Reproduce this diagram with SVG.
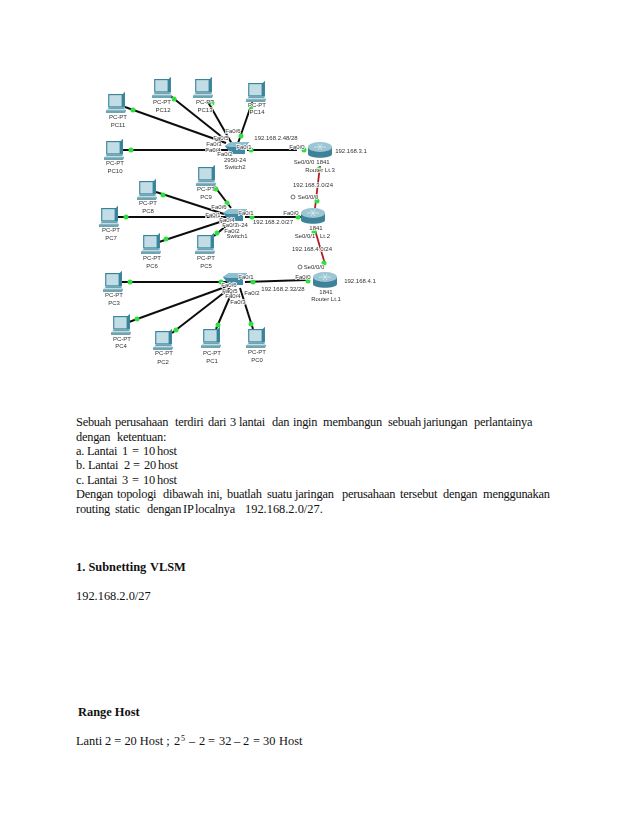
<svg xmlns="http://www.w3.org/2000/svg" width="638" height="826" viewBox="0 0 638 826">
<style>
.b{font-family:"Liberation Serif","Times New Roman",serif;font-size:12.4px;fill:#111;letter-spacing:-0.25px}
.h{font-weight:bold;letter-spacing:0}
.n{letter-spacing:0}
.l{font-family:"Liberation Sans",Arial,sans-serif;font-size:6px;fill:#333;text-anchor:middle;stroke:#fff;stroke-width:1.4px;paint-order:stroke}
.k{stroke:#111;stroke-width:2;fill:none}
.r{stroke:#b01c22;stroke-width:1.8;fill:none}
.d{fill:#2fe03c}
</style>
<defs>
<filter id="soft" x="-2%" y="-2%" width="104%" height="104%"><feGaussianBlur stdDeviation="0.4"/></filter>
<g id="pc" transform="scale(1.12)">
<path d="M-9 7L-6 4H7L9 7L8 9H-9Z" fill="#6ea5b5"/>
<path d="M-7 -8H6L8 -10V4H-7Z" fill="#37859b"/>
<rect x="-6" y="-7" width="11" height="10" fill="#c3dde6"/>
<path d="M-8 6H8" stroke="#d7e6ea" stroke-width="1"/>
</g>
<g id="sw">
<path d="M-12 -3L-6 -7H12L8 -1V5H-6Z" fill="#3f8aa3"/>
<path d="M-12 -3L-6 -7H12L7 -2H-7Z" fill="#8fc0d0"/>
</g>
<g id="rt">
<path d="M-12 -3V4C-12 9 12 9 12 4V-3Z" fill="#3d8299"/>
<ellipse cx="0" cy="-3" rx="12" ry="5" fill="#9cc6d4"/>
<path d="M-6 -3H6M-2 -6L2 0M2 -6L-2 0" stroke="#e3f0f4" stroke-width="0.7" fill="none"/>
</g>
</defs>
<rect width="638" height="826" fill="#fff"/>
<g filter="url(#soft)">
<g id="connectors">
<path class="k" d="M125 107L226 143M168 94L222 137M208 102L232 144M253 100L237 146M123 150L228 150M247 150L297 150"/>
<path class="k" d="M212 183L231 208M156 192L224 214M118 217L228 217M159 242L226 220M214 236L226 226M245 217L303 217"/>
<path class="k" d="M122 282L230 282M129 322L228 286M172 333L230 288M216 329L232 292M253 329L240 288M245 282L306 280"/>
<path class="r" d="M320 166L315 208M315 230L325 264"/>
<g class="d">
<circle cx="133" cy="110" r="2.5"/><circle cx="174" cy="99" r="2.5"/><circle cx="212" cy="103" r="2.5"/><circle cx="251" cy="107" r="2.5"/><circle cx="131" cy="150" r="2.5"/><circle cx="241" cy="136" r="2.5"/><circle cx="251" cy="150" r="2.5"/><circle cx="304" cy="150" r="2.5"/>
<circle cx="319" cy="169" r="2.5"/><circle cx="317" cy="201" r="2.5"/><circle cx="314" cy="232" r="2.5"/><circle cx="324" cy="263" r="2.5"/>
<circle cx="216" cy="189" r="2.5"/><circle cx="163" cy="195" r="2.5"/><circle cx="126" cy="217" r="2.5"/><circle cx="166" cy="239" r="2.5"/><circle cx="217" cy="233" r="2.5"/><circle cx="227" cy="203" r="2.5"/><circle cx="252" cy="217" r="2.5"/><circle cx="298" cy="217" r="2.5"/>
<circle cx="130" cy="282" r="2.5"/><circle cx="221" cy="282" r="2.5"/><circle cx="137" cy="319" r="2.5"/><circle cx="176" cy="330" r="2.5"/><circle cx="218" cy="325" r="2.5"/><circle cx="251" cy="324" r="2.5"/><circle cx="253" cy="282" r="2.5"/><circle cx="308" cy="281" r="2.5"/>
</g>
</g>
<g id="PC11"><use href="#pc" x="116" y="103"/><text class="l" x="118" y="119">PC-PT</text><text class="l" x="118" y="127">PC11</text></g>
<g id="PC12"><use href="#pc" x="162" y="88"/><text class="l" x="162" y="104">PC-PT</text><text class="l" x="163" y="112">PC12</text></g>
<g id="PC13"><use href="#pc" x="203" y="88"/><text class="l" x="205" y="104">PC-PT</text><text class="l" x="205" y="112">PC13</text></g>
<g id="PC14"><use href="#pc" x="256" y="92"/><text class="l" x="257" y="107">PC-PT</text><text class="l" x="257" y="114">PC14</text></g>
<g id="PC10"><use href="#pc" x="114" y="150"/><text class="l" x="115" y="165">PC-PT</text><text class="l" x="115" y="173">PC10</text></g>
<g id="PC9"><use href="#pc" x="206" y="176"/><text class="l" x="206" y="191">PC-PT</text><text class="l" x="206" y="199">PC9</text></g>
<g id="PC8"><use href="#pc" x="147" y="190"/><text class="l" x="148" y="205">PC-PT</text><text class="l" x="148" y="213">PC8</text></g>
<g id="PC7"><use href="#pc" x="109" y="217"/><text class="l" x="111" y="232">PC-PT</text><text class="l" x="111" y="240">PC7</text></g>
<g id="PC6"><use href="#pc" x="151" y="244"/><text class="l" x="152" y="260">PC-PT</text><text class="l" x="152" y="268">PC6</text></g>
<g id="PC5"><use href="#pc" x="205" y="244"/><text class="l" x="206" y="260">PC-PT</text><text class="l" x="206" y="268">PC5</text></g>
<g id="PC3"><use href="#pc" x="113" y="282"/><text class="l" x="114" y="297">PC-PT</text><text class="l" x="114" y="305">PC3</text></g>
<g id="PC4"><use href="#pc" x="121" y="325"/><text class="l" x="122" y="341">PC-PT</text><text class="l" x="121" y="348">PC4</text></g>
<g id="PC2"><use href="#pc" x="163" y="340"/><text class="l" x="164" y="355">PC-PT</text><text class="l" x="163" y="364">PC2</text></g>
<g id="PC1"><use href="#pc" x="211" y="338"/><text class="l" x="212" y="355">PC-PT</text><text class="l" x="212" y="363">PC1</text></g>
<g id="PC0"><use href="#pc" x="256" y="338"/><text class="l" x="257" y="354">PC-PT</text><text class="l" x="257" y="362">PC0</text></g>
<g id="Switch2"><use href="#sw" x="237" y="149"/>
<text class="l" x="233" y="133">Fa0/6</text><text class="l" x="221" y="140">Fa0/5</text><text class="l" x="214" y="145.5">Fa0/3</text><text class="l" x="213" y="151.5">Fa0/4</text><text class="l" x="225" y="156">Fa0/2</text><text class="l" x="244" y="149">Fa0/1</text><text class="l" x="235" y="161.5">2950-24</text><text class="l" x="235" y="169">Switch2</text></g>
<g id="Switch1"><use href="#sw" x="235" y="216"/>
<text class="l" x="219" y="209">Fa0/6</text><text class="l" x="213" y="217">Fa0/1</text><text class="l" x="246" y="215">Fa0/1</text><text class="l" x="227" y="221.5">Fa0/4</text><text class="l" x="235" y="227">Fa0/3\-24</text><text class="l" x="232" y="232.5">Fa0/2</text><text class="l" x="237" y="238">Switch1</text></g>
<g id="Switch0"><use href="#sw" x="235" y="280"/>
<text class="l" x="229" y="287">Fa0/6</text><text class="l" x="230" y="292.5">Fa0/5</text><text class="l" x="233" y="298">Fa0/4</text><text class="l" x="238" y="303.5">Fa0/3</text><text class="l" x="246" y="279">Fa0/1</text><text class="l" x="252" y="295">Fa0/2</text></g>
<g id="RouterLt3"><use href="#rt" x="320" y="150"/>
<text class="l" x="297" y="149">Fa0/0</text><text class="l" x="351" y="153">192.168.3.1</text><text class="l" x="304" y="164">Se0/0/0</text><text class="l" x="323" y="164">1841</text><text class="l" x="320" y="172">Router Lt.3</text></g>
<g id="RouterLt2"><use href="#rt" x="313" y="216"/>
<text class="l" x="291" y="215">Fa0/0</text><text class="l" x="316" y="230">1841</text><text class="l" x="305" y="238">Se0/0/1</text><text class="l" x="325" y="238">Lt.2</text></g>
<g id="RouterLt1"><use href="#rt" x="325" y="280"/>
<text class="l" x="303" y="279">Fa0/0</text><text class="l" x="360" y="283">192.168.4.1</text><text class="l" x="326" y="294">1841</text><text class="l" x="326" y="301">Router Lt.1</text></g>
<g id="linkLabels">
<text class="l" x="276" y="140">192.168.2.48/28</text>
<text class="l" x="313" y="187">192.168.3.0/24</text>
<circle cx="293" cy="197" r="2" fill="none" stroke="#333" stroke-width="0.7"/><text class="l" x="308" y="199">Se0/0/0</text>
<text class="l" x="273" y="224">192.168.2.0/27</text>
<text class="l" x="312" y="251">192.168.4.0/24</text>
<circle cx="300" cy="267" r="2" fill="none" stroke="#333" stroke-width="0.7"/><text class="l" x="314" y="269">Se0/0/0</text>
<text class="l" x="283" y="291">192.168.2.32/28</text>
</g>
</g>
<g id="body" class="b">
<text y="426"><tspan x="76">Sebuah</tspan><tspan x="115">perusahaan</tspan><tspan x="175">terdiri</tspan><tspan x="208">dari</tspan><tspan x="230" class="n">3</tspan><tspan x="239">lantai</tspan><tspan x="272">dan</tspan><tspan x="293">ingin</tspan><tspan x="323">membangun</tspan><tspan x="388">sebuah</tspan><tspan x="423">jariungan</tspan><tspan x="474">perlantainya</tspan></text>
<text y="440.5"><tspan x="76">dengan</tspan><tspan x="117">ketentuan:</tspan></text>
<text y="455"><tspan x="76">a.</tspan><tspan x="87">Lantai</tspan><tspan x="122">1</tspan><tspan x="132">=</tspan><tspan x="143">10</tspan><tspan x="157">host</tspan></text>
<text y="469"><tspan x="76">b.</tspan><tspan x="88">Lantai</tspan><tspan x="124">2</tspan><tspan x="133">=</tspan><tspan x="144">20</tspan><tspan x="158">host</tspan></text>
<text y="484"><tspan x="76">c.</tspan><tspan x="87">Lantai</tspan><tspan x="122">3</tspan><tspan x="132">=</tspan><tspan x="143">10</tspan><tspan x="157">host</tspan></text>
<text y="498"><tspan x="76">Dengan</tspan><tspan x="117">topologi</tspan><tspan x="163">dibawah</tspan><tspan x="207">ini,</tspan><tspan x="227">buatlah</tspan><tspan x="267">suatu</tspan><tspan x="295">jaringan</tspan><tspan x="342">perusahaan</tspan><tspan x="400">tersebut</tspan><tspan x="443">dengan</tspan><tspan x="483">menggunakan</tspan></text>
<text y="513"><tspan x="76">routing</tspan><tspan x="115">static</tspan><tspan x="147">dengan</tspan><tspan x="183">IP</tspan><tspan x="195">localnya</tspan><tspan x="245" class="n">192.168.2.0/27.</tspan></text>
<text y="571" class="h"><tspan x="76">1. Subnetting</tspan><tspan x="150">VLSM</tspan></text>
<text x="76" y="600" class="n">192.168.2.0/27</text>
<text x="78" y="716" class="h">Range Host</text>
<text y="745" class="n"><tspan x="76">Lanti</tspan><tspan x="105">2 = 20 Host ;</tspan><tspan x="174">2</tspan><tspan x="181" dy="-4" font-size="8px">5</tspan><tspan x="189" dy="4">–</tspan><tspan x="199">2</tspan><tspan x="208">=</tspan><tspan x="219">32</tspan><tspan x="234">–</tspan><tspan x="243">2</tspan><tspan x="253">=</tspan><tspan x="263">30</tspan><tspan x="279">Host</tspan></text>
</g>
</svg>
